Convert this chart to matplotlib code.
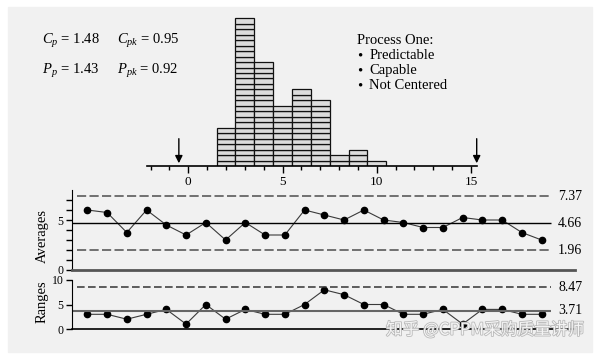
import matplotlib
matplotlib.use("Agg")
import matplotlib.pyplot as plt
import matplotlib.patheffects as pe
from matplotlib.patches import Rectangle
import numpy as np

# histogram of the 96 individual values
bins = [2, 3, 4, 5, 6, 7, 8, 9, 10]
counts = [7, 27, 19, 11, 14, 12, 2, 3, 1]
lsl = -0.5
usl = 15.3

# average and range chart, 24 subgroups
averages = [6.0, 5.75, 3.75, 6.0, 4.5, 3.5, 4.75, 3.0, 4.75, 3.5, 3.5, 6.0,
            5.5, 5.0, 6.0, 5.0, 4.75, 4.25, 4.25, 5.25, 5.0, 5.0, 3.75, 3.0]
ranges = [3, 3, 2, 3, 4, 1, 5, 2, 4, 3, 3, 5,
          8, 7, 5, 5, 3, 3, 4, 1, 4, 4, 3, 3]
avg_ucl, avg_cl, avg_lcl = 7.37, 4.66, 1.96
rng_ucl, rng_cl = 8.47, 3.71

stats = [["$C_p$ = 1.48", "$C_{pk}$ = 0.95"],
         ["$P_p$ = 1.43", "$P_{pk}$ = 0.92"]]
notes_title = "Process One:"
notes = ["Predictable", "Capable", "Not Centered"]

plt.rcParams["font.family"] = ["Liberation Serif", "DejaVu Serif"]
plt.rcParams["mathtext.fontset"] = "custom"
plt.rcParams["mathtext.rm"] = "Liberation Serif"
plt.rcParams["mathtext.it"] = "Liberation Serif:italic"

W, H = 600, 358
fig = plt.figure(figsize=(6, 3.58), dpi=100)


def box(x0, y0, x1, y1):
    # pixel box -> figure fraction rect
    return [x0 / W, 1 - y1 / H, (x1 - x0) / W, (y1 - y0) / H]


def fx(x):
    return x / W


def fy(y):
    return 1 - y / H


fig.patches.append(Rectangle((8 / W, 1 - 352 / H), 584 / W, 345 / H,
                             transform=fig.transFigure, color="#f1f1f1", zorder=-10))

# ---- histogram
ax = fig.add_axes(box(146.8, 1.9, 476.7, 166))
ax.patch.set_visible(False)
xs = np.repeat(bins, counts)
bottoms = np.concatenate([np.arange(c) for c in counts])
ax.bar(xs, 1, bottom=bottoms, width=1, color="#dcdcdc", edgecolor="#111111", lw=0.9)
ax.set_xlim(-2.2, 15.3)
ax.set_ylim(0, 30)
for s in ["left", "top", "right"]:
    ax.spines[s].set_visible(False)
ax.spines["bottom"].set_linewidth(1.2)
ax.set_yticks([])
ax.set_xticks([0, 5, 10, 15])
ax.set_xticks(range(-2, 16), minor=True)
ax.tick_params(axis="x", which="major", length=5, width=1, labelsize=9.5, pad=2)
ax.tick_params(axis="x", which="minor", length=3, width=1)
for s in (lsl, usl):
    ax.annotate("", xy=(s, 0), xytext=(s, 5.5), annotation_clip=False,
                arrowprops=dict(arrowstyle="-|>", color="black", lw=1, mutation_scale=11))

# ---- averages chart
idx = np.arange(1, len(averages) + 1)
x0, x1 = 0.21, 25.69

ax1 = fig.add_axes(box(71.7, 190, 575, 270))
ax1.patch.set_visible(False)
ax1.plot(idx, averages, color="#3a3a3a", lw=0.8, marker="o", ms=4.5, mfc="black", mec="black")
ax1.hlines(avg_cl, x0, 24.5, color="black", lw=1)
ax1.hlines([avg_ucl, avg_lcl], 0.5, 24.5, color="#5a5a5a", lw=1.2, linestyles=(0, (5.5, 2)))
for v in (avg_ucl, avg_cl, avg_lcl):
    ax1.text(24.83, v, f"{v:.2f}", va="center", ha="left", fontsize=10)
ax1.set_xlim(x0, x1)
ax1.set_ylim(0, 8)
ax1.set_yticks(range(0, 8))
ax1.set_yticklabels(["0", "", "", "", "", "5", "", ""])
ax1.set_xticks([])
ax1.spines["top"].set_visible(False)
ax1.spines["right"].set_visible(False)
ax1.spines["bottom"].set_color("#555555")
ax1.spines["bottom"].set_linewidth(2)
ax1.tick_params(axis="y", length=4, width=1, labelsize=8.5, pad=2)
fig.text(fx(42.7), fy(236), "Averages", rotation=90, ha="center", va="center", fontsize=10.5)

# ---- ranges chart
ax2 = fig.add_axes(box(71.7, 280, 575, 329))
ax2.patch.set_visible(False)
ax2.plot(idx, ranges, color="#3a3a3a", lw=0.8, marker="o", ms=4.5, mfc="black", mec="black")
ax2.hlines(rng_cl, x0, 24.5, color="#666666", lw=1.5)
ax2.hlines(rng_ucl, 0.5, 24.5, color="#333333", lw=1.1, linestyles=(0, (5, 2.2)))
for v in (rng_ucl, rng_cl):
    ax2.text(24.83, v, f"{v:.2f}", va="center", ha="left", fontsize=10)
ax2.set_xlim(x0, x1)
ax2.set_ylim(0, 10)
ax2.set_yticks([0, 5, 10])
ax2.set_xticks([])
ax2.spines["top"].set_visible(False)
ax2.spines["right"].set_visible(False)
ax2.spines["bottom"].set_linewidth(1.2)
ax2.tick_params(axis="y", length=4, width=1, labelsize=8.5, pad=2)
fig.text(fx(41.7), fy(301.7), "Ranges", rotation=90, ha="center", va="center", fontsize=10.5)

# ---- text blocks
for row, yb in zip(stats, (44.3, 74)):
    fig.text(fx(41.7), fy(yb), row[0], fontsize=10.5, va="baseline")
    fig.text(fx(116.7), fy(yb), row[1], fontsize=10.5, va="baseline")

fig.text(fx(357.3), fy(44), notes_title, fontsize=10.5, va="baseline")
for i, n in enumerate(notes):
    yb = 59 + 15 * i
    fig.text(fx(357.5), fy(yb), "\u2022", fontsize=10.5, va="baseline")
    fig.text(fx(369.3), fy(yb), n, fontsize=10.5, va="baseline")

# watermark
fig.text(fx(386), fy(330), "知乎 @CPPM采购质量讲师", family=["Noto Sans CJK SC", "DejaVu Sans"],
         fontsize=12, color="white", va="center", alpha=0.85,
         path_effects=[pe.withStroke(linewidth=1.2, foreground="#b0b0b0")])

fig.savefig("out.png", dpi=100)
